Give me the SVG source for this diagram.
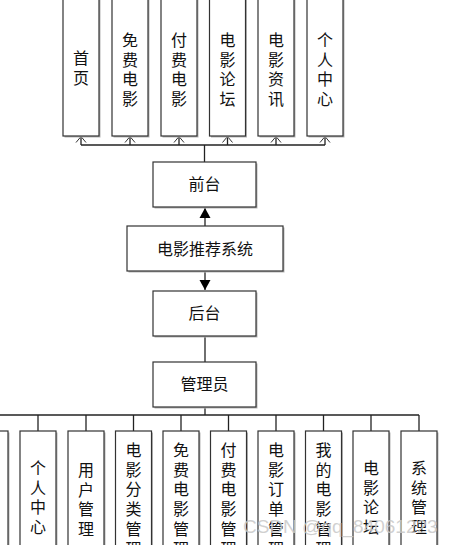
<svg xmlns="http://www.w3.org/2000/svg" width="450" height="545" viewBox="0 0 450 545">
<defs>
<marker id="openArrow" markerWidth="12" markerHeight="10" refX="6" refY="1" orient="0" markerUnits="userSpaceOnUse">
<path d="M1,7 L6,1 L11,7" fill="none" stroke="#333" stroke-width="1"/>
</marker>
<marker id="solidUp" markerWidth="12" markerHeight="12" refX="6" refY="0" orient="0" markerUnits="userSpaceOnUse">
<path d="M0.5,10 L6,0 L11.5,10 Z" fill="#000"/>
</marker>
<marker id="solidDown" markerWidth="12" markerHeight="12" refX="6" refY="11" orient="0" markerUnits="userSpaceOnUse">
<path d="M0.5,1 L6,11 L11.5,1 Z" fill="#000"/>
</marker>
</defs>
<style>
.box{fill:#fff;stroke:#333;stroke-width:1.2}
.sh{fill:#b5b5b5}
.t{font-family:"Noto Sans CJK SC","Liberation Sans",sans-serif;font-size:16px;fill:#111;text-anchor:middle}
.v{font-family:"Noto Sans CJK SC","Liberation Sans",sans-serif;font-size:16px;fill:#111;writing-mode:vertical-rl;text-anchor:start;letter-spacing:3.7px}
.ln{stroke:#222;stroke-width:1.3;fill:none}
.wm{font-family:"Liberation Sans",Arial,sans-serif;font-size:19px;fill:#c8c8c8;fill-opacity:0.85}
</style>
<rect width="450" height="545" fill="#fff"/>

<g id="connectors">
<line class="ln" x1="81" y1="145" x2="325" y2="145"/>
<line class="ln" x1="204.5" y1="145" x2="204.5" y2="162" stroke-width="2"/>
<line class="ln" x1="81" y1="145" x2="81" y2="136.5" marker-end="url(#openArrow)"/>
<line class="ln" x1="130" y1="145" x2="130" y2="136.5" marker-end="url(#openArrow)"/>
<line class="ln" x1="179" y1="145" x2="179" y2="136.5" marker-end="url(#openArrow)"/>
<line class="ln" x1="227.5" y1="145" x2="227.5" y2="136.5" marker-end="url(#openArrow)"/>
<line class="ln" x1="276" y1="145" x2="276" y2="136.5" marker-end="url(#openArrow)"/>
<line class="ln" x1="325" y1="145" x2="325" y2="136.5" marker-end="url(#openArrow)"/>
<line class="ln" x1="205" y1="226" x2="205" y2="208" stroke-width="2" marker-end="url(#solidUp)"/>
<line class="ln" x1="205" y1="271" x2="205" y2="290" stroke-width="2" marker-end="url(#solidDown)"/>
<line class="ln" x1="205" y1="336" x2="205" y2="362"/>
<line class="ln" x1="205" y1="407" x2="205" y2="415" stroke-width="2"/>
<line class="ln" x1="-10" y1="415" x2="419" y2="415" stroke-width="1.6"/>
<line class="ln" x1="-10" y1="415" x2="-10" y2="431"/>
<line class="ln" x1="38" y1="415" x2="38" y2="431"/>
<line class="ln" x1="86" y1="415" x2="86" y2="431"/>
<line class="ln" x1="133.5" y1="415" x2="133.5" y2="431"/>
<line class="ln" x1="181" y1="415" x2="181" y2="431"/>
<line class="ln" x1="228.5" y1="415" x2="228.5" y2="431"/>
<line class="ln" x1="276" y1="415" x2="276" y2="431"/>
<line class="ln" x1="323.5" y1="415" x2="323.5" y2="431"/>
<line class="ln" x1="371" y1="415" x2="371" y2="431"/>
<line class="ln" x1="419" y1="415" x2="419" y2="431"/>
</g>

<g id="top-shouye"><rect class="sh" x="64.5" y="-5" width="36" height="142.5"/><rect class="box" x="63" y="-6" width="36" height="142"/>
<text class="v" x="81" y="50">首页</text></g>
<g id="top-mianfei"><rect class="sh" x="113.5" y="-5" width="36" height="142.5"/><rect class="box" x="112" y="-6" width="36" height="142"/>
<text class="v" x="130" y="32">免费电影</text></g>
<g id="top-fufei"><rect class="sh" x="162.5" y="-5" width="36" height="142.5"/><rect class="box" x="161" y="-6" width="36" height="142"/>
<text class="v" x="179" y="32">付费电影</text></g>
<g id="top-luntan"><rect class="sh" x="211" y="-5" width="36" height="142.5"/><rect class="box" x="209.5" y="-6" width="36" height="142"/>
<text class="v" x="227.5" y="32">电影论坛</text></g>
<g id="top-zixun"><rect class="sh" x="259.5" y="-5" width="36" height="142.5"/><rect class="box" x="258" y="-6" width="36" height="142"/>
<text class="v" x="276" y="32">电影资讯</text></g>
<g id="top-geren"><rect class="sh" x="308.5" y="-5" width="36" height="142.5"/><rect class="box" x="307" y="-6" width="36" height="142"/>
<text class="v" x="325" y="32">个人中心</text></g>

<g id="qiantai"><rect class="sh" x="154.5" y="163.5" width="103" height="45"/><rect class="box" x="153" y="162" width="103" height="45"/>
<text class="t" x="204.5" y="190">前台</text></g>
<g id="system"><rect class="sh" x="128.5" y="227.5" width="156" height="45"/><rect class="box" x="127" y="226" width="156" height="45"/>
<text class="t" x="205" y="255">电影推荐系统</text></g>
<g id="houtai"><rect class="sh" x="154.5" y="292.5" width="103" height="45"/><rect class="box" x="153" y="291" width="103" height="45"/>
<text class="t" x="204.5" y="319">后台</text></g>
<g id="admin"><rect class="sh" x="154.5" y="363.5" width="103" height="45"/><rect class="box" x="153" y="362" width="103" height="45"/>
<text class="t" x="204.5" y="390">管理员</text></g>

<g id="b0"><rect class="sh" x="-26.5" y="432.5" width="36" height="120"/><rect class="box" x="-28" y="431" width="36" height="120"/></g>
<g id="b-geren"><rect class="sh" x="21.5" y="432.5" width="36" height="120"/><rect class="box" x="20" y="431" width="36" height="120"/>
<text class="v" x="38" y="460">个人中心</text></g>
<g id="b-yonghu"><rect class="sh" x="69.5" y="432.5" width="36" height="120"/><rect class="box" x="68" y="431" width="36" height="120"/>
<text class="v" x="86" y="462">用户管理</text></g>
<g id="b-fenlei"><rect class="sh" x="117" y="432.5" width="36" height="120"/><rect class="box" x="115.5" y="431" width="36" height="120"/>
<text class="v" x="133.5" y="442">电影分类管理</text></g>
<g id="b-mianfei"><rect class="sh" x="164.5" y="432.5" width="36" height="120"/><rect class="box" x="163" y="431" width="36" height="120"/>
<text class="v" x="181" y="442">免费电影管理</text></g>
<g id="b-fufei"><rect class="sh" x="212" y="432.5" width="36" height="120"/><rect class="box" x="210.5" y="431" width="36" height="120"/>
<text class="v" x="228.5" y="442">付费电影管理</text></g>
<g id="b-dingdan"><rect class="sh" x="259.5" y="432.5" width="36" height="120"/><rect class="box" x="258" y="431" width="36" height="120"/>
<text class="v" x="276" y="442">电影订单管理</text></g>
<g id="b-wode"><rect class="sh" x="307" y="432.5" width="36" height="120"/><rect class="box" x="305.5" y="431" width="36" height="120"/>
<text class="v" x="323.5" y="442">我的电影管理</text></g>
<g id="b-luntan"><rect class="sh" x="354.5" y="432.5" width="36" height="120"/><rect class="box" x="353" y="431" width="36" height="120"/>
<text class="v" x="371" y="460">电影论坛</text></g>
<g id="b-xitong"><rect class="sh" x="402.5" y="432.5" width="36" height="120"/><rect class="box" x="401" y="431" width="36" height="120"/>
<text class="v" x="419" y="460">系统管理</text></g>

<text class="wm" x="243" y="533">CSDN @qq_84061223</text>
</svg>
